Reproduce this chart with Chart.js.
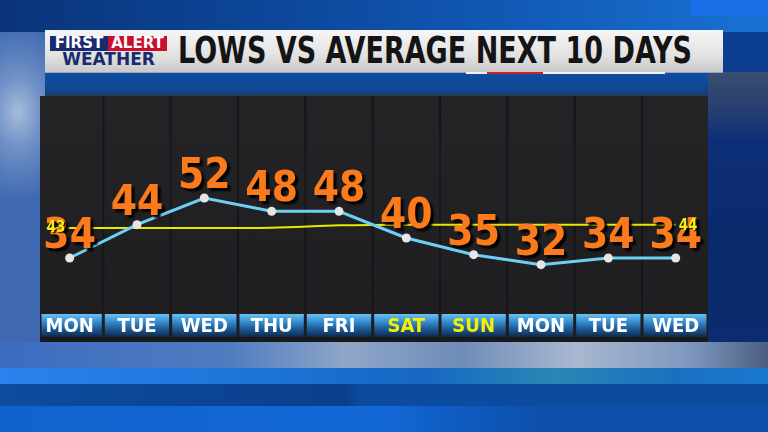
<!DOCTYPE html>
<html>
<head>
<meta charset="utf-8">
<script src="https://cdn.jsdelivr.net/npm/chart.js@4.4.1/dist/chart.umd.min.js"></script>
<style>
  html, body { margin: 0; padding: 0; }
  body { width: 768px; height: 432px; overflow: hidden; position: relative; background: #0c3f8f; font-family: "DejaVu Sans Condensed", "DejaVu Sans", sans-serif; }
  .bg { position: absolute; }
  #banner { position: absolute; left: 45px; top: 30px; width: 678px; height: 42px;
    background: linear-gradient(#f6f6f6, #e2e2e2 60%, #c9c9c9); border-bottom: 1px solid #9aa6b8; }
  #logo { position: absolute; left: 5px; top: 6px; width: 117px; height: 31px; }
  #logo .r1 { position: absolute; top: 0; height: 15px; color: #fff; font: bold 15px "DejaVu Sans", sans-serif; line-height: 15px; text-align: center; }
  #logo .first { left: 0; width: 58px; background: #1b2a6e; }
  #logo .alert { left: 58px; width: 59px; background: #c8102e; }
  #logo .wx { position: absolute; left: 0; top: 15px; width: 117px; height: 16px; color: #1b2a6e; font: bold 17px "DejaVu Sans", sans-serif; line-height: 16px; text-align: center; }
  #title { position: absolute; left: 133px; top: 1px; font: bold 37px "DejaVu Sans Condensed", sans-serif; color: #141414; white-space: nowrap; transform-origin: 0 50%; line-height: 40px; }
  #uline { position: absolute; left: 466px; top: 72px; width: 199px; height: 2px; background: #f2f2f2; }
  #uline div { position: absolute; left: 21px; width: 56px; height: 2px; background: #d0202a; }
  #panel { position: absolute; left: 40px; top: 96px; width: 668px; height: 246px; background: linear-gradient(#242426, #1e1e20); }
  #panel::after { content: ""; position: absolute; left: 0; right: 0; bottom: 0; height: 5px; background: #18191b; }
  canvas { position: absolute; left: 40px; top: 96px; }
</style>
</head>
<body>
<div class="bg" style="left:0;top:0;width:768px;height:32px;background:linear-gradient(90deg,#0a3479 0%,#0c4699 35%,#1158b4 65%,#1872d2 100%)"></div>
<div class="bg" style="left:690px;top:0;width:78px;height:16px;background:#1b6fe6"></div>
<div class="bg" style="left:0;top:32px;width:45px;height:312px;background:radial-gradient(ellipse 60px 90px at 18px 80px,#a8bcdc 0,#7090c6 40%,#3e68b0 100%),#3262ae"></div>
<div class="bg" style="left:45px;top:72px;width:680px;height:24px;background:linear-gradient(#0f4fa2,#0d4592 80%,#2a3850)"></div>
<div class="bg" style="left:708px;top:72px;width:60px;height:280px;background:linear-gradient(#3b4f70 0%,#2a4070 12%,#0d2f78 25%,#0a2a6c 60%,#0b2c70 100%)"></div>
<div class="bg" style="left:0;top:342px;width:768px;height:28px;background:linear-gradient(90deg,#3c6cc0 0%,#4f7cc0 30%,#8fa6c8 45%,#6f8cb8 60%,#a8b8d0 75%,#7e96be 90%,#4a5e80 100%)"></div>
<div class="bg" style="left:0;top:368px;width:768px;height:16px;background:linear-gradient(90deg,#2a82ec 0%,#1d74d8 33%,#1668c2 55%,#2a86b4 72%,#1a70c0 88%,#1a78d0 100%)"></div>
<div class="bg" style="left:0;top:384px;width:768px;height:22px;background:linear-gradient(90deg,#0d4c9e 0%,#0a3f8c 45%,#0b4ba0 47%,#0b4ba0 100%)"></div>
<div class="bg" style="left:0;top:406px;width:768px;height:26px;background:linear-gradient(90deg,#1063cc 0%,#1468d6 50%,#0f5fc8 56%,#0d50ac 70%,#0c4ea8 100%)"></div>

<div id="banner">
  <div id="logo">
    <div class="r1 first">FIRST</div>
    <div class="r1 alert">ALERT</div>
    <div class="wx">WEATHER</div>
  </div>
  <div id="title">LOWS VS AVERAGE NEXT 10 DAYS</div>
</div>
<div id="uline"><div></div></div>
<div id="panel"></div>
<canvas id="myChart" width="668" height="246"></canvas>

<script>
// chart values
const days = ['MON', 'TUE', 'WED', 'THU', 'FRI', 'SAT', 'SUN', 'MON', 'TUE', 'WED'];
const weekendDays = ['SAT', 'SUN'];
const lows = [34, 44, 52, 48, 48, 40, 35, 32, 34, 34];
const avgLows = [43, 43, 43, 43.1, 43.8, 44, 44, 44, 44, 44];

// fit title into the banner
const title = document.getElementById('title');
title.style.transform = 'scaleX(' + (514 / title.offsetWidth) + ')';

// column separators and day bars
const columnPlugin = {
    id: 'columns',
    beforeDraw(chart) {
        const ctx = chart.ctx;
        const x = chart.scales.x;
        const area = chart.chartArea;
        ctx.save();
        for (let i = 0; i < days.length; i++) {
            let left = i === 0 ? 0 : x.getPixelForValue(i - 0.5);
            let right = i === days.length - 1 ? chart.width : x.getPixelForValue(i + 0.5);
            let top = x.top + 2;
            let g = ctx.createLinearGradient(0, top, 0, top + 23);
            g.addColorStop(0, '#6cc0f0');
            g.addColorStop(0.3, '#3a94d6');
            g.addColorStop(0.65, '#1d5a96');
            g.addColorStop(1, '#10284a');
            ctx.fillStyle = g;
            ctx.fillRect(left + 1.5, top, right - left - 3, 23);
            if (i > 0) {
                ctx.fillStyle = '#15171c';
                ctx.fillRect(left - 1, area.top, 2, area.bottom - area.top + 1);
            }
        }
        ctx.restore();
    }
};

// big orange numbers and average end labels
const labelPlugin = {
    id: 'labels',
    afterDatasetsDraw(chart) {
        const ctx = chart.ctx;
        ctx.save();
        const meta = chart.getDatasetMeta(0);
        ctx.font = 'bold 42px "DejaVu Sans Condensed", sans-serif';
        ctx.textAlign = 'center';
        ctx.textBaseline = 'alphabetic';
        ctx.shadowColor = 'rgba(0,0,0,0.95)';
        ctx.shadowOffsetX = 3;
        ctx.shadowOffsetY = 3;
        ctx.shadowBlur = 2;
        ctx.fillStyle = '#fb7a1c';
        meta.data.forEach((p, i) => {
            ctx.fillText(String(lows[i]), p.x, p.y - 10);
        });

        const pts = chart.getDatasetMeta(1).data;
        ctx.font = 'bold 15px "DejaVu Sans Condensed", sans-serif';
        ctx.textAlign = 'left';
        ctx.textBaseline = 'middle';
        ctx.shadowOffsetX = 1.5;
        ctx.shadowOffsetY = 1.5;
        ctx.shadowBlur = 1;
        ctx.fillStyle = '#f2ee10';
        ctx.fillText(String(avgLows[0]), pts[0].x, pts[0].y);
        let last = pts[pts.length - 1];
        ctx.fillText(String(avgLows[avgLows.length - 1]), last.x + 3, last.y + 1);
        ctx.restore();
    }
};

const ctx = document.getElementById('myChart').getContext('2d');
const avgData = [{ x: -0.34, y: avgLows[0] }].concat(avgLows.map((v, i) => ({ x: i, y: v })));

new Chart(ctx, {
    type: 'line',
    data: {
        datasets: [
            {
                label: 'Low',
                data: lows.map((v, i) => ({ x: i, y: v })),
                borderColor: '#6ecff6',
                borderWidth: 3,
                tension: 0,
                pointRadius: 4.5,
                pointBackgroundColor: '#e6e6e6',
                pointBorderWidth: 0,
                order: 1
            },
            {
                label: 'Average',
                data: avgData,
                borderColor: '#ece600',
                borderWidth: 2,
                cubicInterpolationMode: 'monotone',
                pointRadius: 0,
                order: 2
            }
        ]
    },
    options: {
        responsive: false,
        animation: false,
        devicePixelRatio: 1,
        layout: { padding: 0, autoPadding: false },
        plugins: { legend: { display: false }, tooltip: { enabled: false } },
        scales: {
            x: {
                type: 'linear',
                min: -0.44,
                max: 9.48,
                grid: { display: false, drawTicks: false },
                border: { display: false },
                afterBuildTicks: (scale) => { scale.ticks = days.map((d, i) => ({ value: i })); },
                afterFit: (scale) => {
                    scale.height = 30;
                    scale.paddingLeft = 0;
                    scale.paddingRight = 0;
                },
                ticks: {
                    autoSkip: false,
                    maxRotation: 0,
                    padding: 3,
                    font: { family: '"DejaVu Sans Condensed", sans-serif', size: 20, weight: 'bold' },
                    color: (c) => weekendDays.includes(days[c.index]) ? '#f4f000' : '#ffffff',
                    callback: (v) => days[v]
                }
            },
            y: {
                display: false,
                min: 17.8,
                max: 82.6
            }
        }
    },
    plugins: [columnPlugin, labelPlugin]
});
</script>
</body>
</html>
